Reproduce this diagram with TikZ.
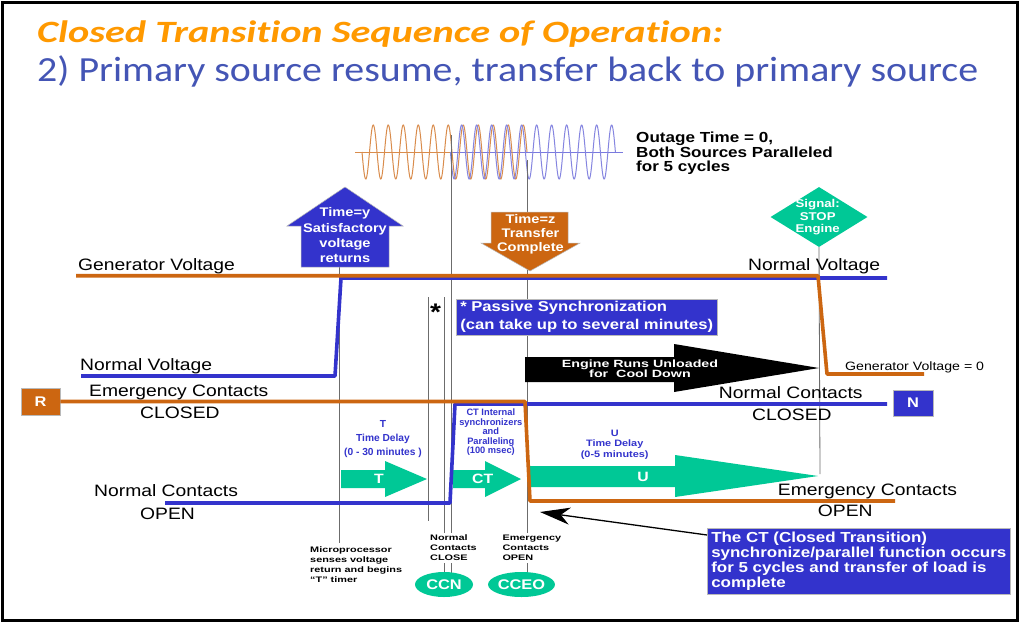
\documentclass[tikz,border=0pt]{standalone}
\usepackage{fontspec}
\newfontfamily\arialx{Liberation Sans}[FakeStretch=1.17]
\newfontfamily\arialw{Liberation Sans}[FakeStretch=1.36]
\newfontfamily\arialn{Liberation Sans}
\newfontfamily\calibw{Carlito}[FakeStretch=1.3, Ligatures=CommonOff]
\newfontfamily\calib{Carlito}[FakeStretch=1.13, Ligatures=CommonOff]
\usetikzlibrary{arrows.meta,shapes.geometric}
\definecolor{ttlorange}{HTML}{FF9900}
\definecolor{ttlblue}{HTML}{4455B5}
\definecolor{genorange}{HTML}{CC6611}
\definecolor{srcblue}{HTML}{3333CC}
\definecolor{tealgreen}{HTML}{00C896}

\begin{document}
\begin{tikzpicture}[x=1pt,y=-1pt,
  vline/.style={gray!85!black, line width=0.8pt},
  trace/.style={line width=3.6pt, line join=round},
  wave/.style={line width=1pt},
  lbl/.style={anchor=base west, inner sep=0pt, font=\arialx\fontsize{16.5}{18}\selectfont},
  tag/.style={anchor=west, inner sep=0pt, align=left, font=\arialw\bfseries\fontsize{8}{10}\selectfont},
  note/.style={inner sep=0pt, align=center, text=srcblue},
  wht/.style={inner sep=0pt, align=center, text=white, font=\arialx\bfseries\fontsize{12.5}{15.3}\selectfont},
  shapebox/.style={draw=gray!55, line width=0.5pt}]
\fill[white] (0,0) rectangle (1024,623);
\useasboundingbox (0,0) rectangle (1024,623);
\draw[line width=3pt] (2.5,3) rectangle (1017,620);
% titles
\node[anchor=base west, inner sep=0pt, text=ttlorange, font=\calibw\bfseries\itshape\fontsize{31}{33}\selectfont] (title) at (37,42.3) {Closed Transition Sequence of Operation:};
\node[anchor=base west, inner sep=0pt, text=ttlblue, font=\calib\fontsize{35.3}{37}\selectfont] (subtitle) at (37,81.7) {2) Primary source resume, transfer back to primary source};
% both sources paralleled
\draw[genorange!75, wave] (355,152) -- (451,152);
\draw[srcblue!65, wave] (451,152) -- (623,152);
\draw[genorange!75, wave] plot[domain=362:527, samples=600] (\x,{152+27*sin(24*(\x-362))});
\draw[srcblue!60, wave] plot[domain=450.4:615.4, samples=600] (\x,{152-27*sin(24*(\x-457.9))});
\node[anchor=west, inner sep=0pt, align=left, font=\arialx\bfseries\fontsize{14.6}{14.5}\selectfont] (outage) at (636,153.5) {Outage Time = 0,\\Both Sources Paralleled\\for 5 cycles};
% event lines
\draw[vline] (339,267) -- (339,543);
\draw[vline] (428,297) -- (428,521);
\draw[vline] (444,297) -- (444,533) (444,563) -- (444,573);
\draw[vline] (451,135) -- (451,533) (451,563) -- (451,573);
\draw[vline] (527,160) -- (527,533) (527,563) -- (527,573);
% block arrows
\filldraw[fill=srcblue, shapebox] (301,267) -- (301,226) -- (287,226) -- (345,187) -- (403,226) -- (389,226) -- (389,267) -- cycle;
\node[wht] (timey) at (345,235.4) {Time=y\\Satisfactory\\voltage\\returns};
\filldraw[fill=genorange, shapebox] (491,212) -- (568,212) -- (568,243) -- (580,243) -- (530,271) -- (481,243) -- (491,243) -- cycle;
\node[wht, font=\arialx\bfseries\fontsize{12.5}{14.2}\selectfont] (timez) at (530.5,234) {Time=z\\Transfer\\Complete};
\node[diamond, fill=tealgreen, minimum width=97pt, minimum height=60pt, inner sep=0pt] (stop) at (819,217) {};
\node[wht, font=\arialx\bfseries\fontsize{11.3}{12.5}\selectfont] (stoptext) at (817.7,217.5) {Signal:\\STOP\\Engine};
\draw[vline] (stop.south) -- (820,474);
\fill[black] (525,357) -- (674,357) -- (674,344) -- (819,368) -- (674,392) -- (674,382) -- (525,382) -- cycle;
\node[wht, font=\arialw\bfseries\fontsize{10.5}{10.7}\selectfont] (cooldown) at (640,368.7) {Engine Runs Unloaded\\for\ \ Cool Down};
\fill[tealgreen] (341,470) -- (385,470) -- (385,461) -- (427,479) -- (385,497) -- (385,488) -- (341,488) -- cycle;
\fill[tealgreen] (453,470) -- (485,470) -- (485,461) -- (521,479) -- (485,497) -- (485,488) -- (453,488) -- cycle;
\fill[tealgreen] (530,466) -- (675,466) -- (675,455) -- (818,476) -- (675,497) -- (675,487) -- (530,487) -- cycle;
\node[wht, font=\arialx\bfseries\fontsize{13.5}{15}\selectfont] (tarrow) at (379,479) {T};
\node[wht, font=\arialx\bfseries\fontsize{13.5}{15}\selectfont] (ctarrow) at (482.7,479) {CT};
\node[wht, font=\arialx\bfseries\fontsize{13.5}{15}\selectfont] (uarrow) at (643,476.7) {U};
% source traces
\node[fill=genorange, shapebox, minimum width=39pt, minimum height=27pt, inner sep=0pt, text=white, font=\arialx\bfseries\fontsize{14}{16}\selectfont] (rbox) at (40.5,401.5) {R};
\node[fill=srcblue, shapebox, minimum width=40pt, minimum height=26pt, inner sep=0pt, text=white, font=\arialx\bfseries\fontsize{14}{16}\selectfont] (nbox) at (913,403) {N};
\draw[trace, srcblue] (81,376) -- (335,376) -- (341,278) -- (887,278);
\draw[trace, genorange] (76,275.7) -- (818,275.7) -- (827,374) -- (924,374);
\draw[trace, srcblue] (165,503) -- (450,503) -- (455,404) -- (887,404);
\draw[trace, genorange] (rbox.east) -- (525,401.5) -- (530,501) -- (895,501);
% trace labels
\node[lbl] (genv) at (78,270) {Generator Voltage};
\node[lbl] (normvl) at (80,370) {Normal Voltage};
\node[lbl] (normvr) at (748,270) {Normal Voltage};
\node[lbl, font=\arialx\fontsize{12.1}{14}\selectfont] (genzero) at (845,370.7) {Generator Voltage = 0};
\node[lbl] (emcl) at (89,396) {Emergency Contacts};
\node[lbl] (closedl) at (140,418) {CLOSED};
\node[lbl] (nocl) at (94,496.7) {Normal Contacts};
\node[lbl] (openl) at (140,519) {OPEN};
\node[lbl] (nocr) at (718.7,398) {Normal Contacts};
\node[lbl] (closedr) at (752,420) {CLOSED};
\node[lbl] (emcr) at (777.7,495) {Emergency Contacts};
\node[lbl] (openr) at (817.7,516) {OPEN};
% passive synchronization
\node[inner sep=0pt, font=\arialx\bfseries\fontsize{24}{24}\selectfont] (star) at (435.5,312) {*};
\node[fill=srcblue, shapebox, anchor=north west, minimum height=36pt, inner xsep=4pt, inner ysep=2pt, align=left, text=white, font=\arialx\bfseries\fontsize{14.2}{18}\selectfont] (passive) at (456,299) {* Passive Synchronization\\(can take up to several minutes)};
% delay notes
\node[note, font=\arialn\bfseries\fontsize{10.2}{13.8}\selectfont] (tdelay) at (383,439) {T\\Time Delay\\(0 - 30 minutes )};
\node[note, font=\arialn\bfseries\fontsize{9.3}{9.4}\selectfont] (ctint) at (490.8,432.3) {CT Internal\\synchronizers\\and\\Paralleling\\(100 msec)};
\node[note, font=\arialx\bfseries\fontsize{9.3}{10.3}\selectfont] (udelay) at (614.7,444.5) {U\\Time Delay\\(0-5 minutes)};
% event tags
\node[tag] (micro) at (310,564.3) {Microprocessor\\senses voltage\\return and begins\\“T” timer};
\node[tag] (ncclose) at (430,547.3) {Normal\\Contacts\\CLOSE};
\node[tag] (ecopen) at (502.3,547.3) {Emergency\\Contacts\\OPEN};
\node[ellipse, fill=tealgreen, minimum width=58pt, minimum height=25pt, inner sep=0pt, text=white, font=\arialx\bfseries\fontsize{14}{16}\selectfont] (ccn) at (444,584.5) {CCN};
\node[ellipse, fill=tealgreen, minimum width=57pt, minimum height=25pt, inner sep=0pt, text=white, font=\arialx\bfseries\fontsize{14}{16}\selectfont] (cceo) at (521.5,584.5) {CCEO};
% closed transition note
\node[fill=srcblue, shapebox, anchor=north west, minimum height=66pt, inner xsep=4pt, inner ysep=2pt, align=left, text=white, font=\arialx\bfseries\fontsize{14.5}{14.7}\selectfont] (ctnote) at (707,528) {The CT (Closed Transition)\\synchronize/parallel function occurs\\for 5 cycles and transfer of load is\\complete};
\coordinate (cttip) at (540,512);
\draw[line width=1.3pt, -{Stealth[length=30pt,width=17pt,inset=9pt]}] ([yshift=-7pt]ctnote.north west) -- (cttip);
\end{tikzpicture}
\end{document}
